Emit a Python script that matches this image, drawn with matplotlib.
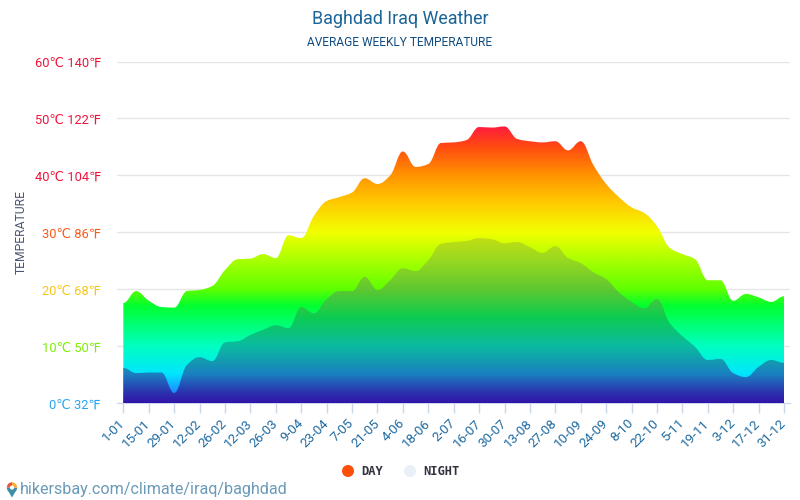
import numpy as np
import matplotlib
matplotlib.use('Agg')
import matplotlib.pyplot as plt
from matplotlib.path import Path
from matplotlib.patches import PathPatch, Circle, Polygon, Wedge
from matplotlib.colors import LinearSegmentedColormap

plt.rcParams['font.family'] = ['Roboto', 'DejaVu Sans']

# one value per week
day = [17.6, 19.7, 18.0, 16.9, 16.8, 19.7, 19.9, 20.6, 23.4, 25.3,
       25.4, 26.2, 25.5, 29.5, 29.0, 32.9, 35.5, 36.2, 37.0, 39.5,
       38.5, 40.0, 44.2, 41.5, 42.0, 45.7, 45.8, 46.2, 48.5, 48.4,
       48.6, 46.4, 46.0, 45.8, 46.0, 44.4, 46.0, 41.8, 38.5, 36.2,
       34.4, 33.4, 31.1, 27.3, 26.2, 25.3, 21.6, 21.6, 18.0, 19.2,
       18.6, 17.8, 18.8]
night = [6.2, 5.3, 5.4, 5.4, 1.8, 6.7, 8.1, 7.4, 10.7, 10.9,
         12.0, 12.9, 13.7, 13.2, 16.9, 15.8, 18.3, 19.7, 19.7, 22.2,
         19.9, 21.6, 23.7, 23.2, 25.1, 28.0, 28.3, 28.5, 29.0, 28.8,
         28.1, 28.3, 27.4, 26.4, 27.6, 25.5, 24.6, 23.0, 21.8, 19.5,
         17.8, 16.7, 18.3, 14.1, 11.8, 9.9, 7.6, 7.8, 5.3, 4.6,
         6.4, 7.6, 7.1]
week_labels = ['1-01', '15-01', '29-01', '12-02', '26-02', '12-03', '26-03', '9-04', '23-04',
               '7-05', '21-05', '4-06', '18-06', '2-07', '16-07', '30-07', '13-08', '27-08',
               '10-09', '24-09', '8-10', '22-10', '5-11', '19-11', '3-12', '17-12', '31-12']
y_ticks = [0, 10, 20, 30, 40, 50, 60]
y_labels = ['0℃ 32℉', '10℃ 50℉', '20℃ 68℉', '30℃ 86℉', '40℃ 104℉', '50℃ 122℉', '60℃ 140℉']
y_colors = ['#2ba4ee', '#7cf000', '#f7c61a', '#ff5a14', '#f0143c', '#f0143c', '#f0143c']

day_stops = [(0, '#2d12a8'), (2, '#1e90ff'), (5, '#00e5ff'), (10, '#00ffc0'), (17, '#00ff30'),
             (20, '#60ff00'), (30, '#f2ff00'), (35, '#ffcc00'), (40, '#ff9400'), (45, '#ff4a10'),
             (50, '#ff0a50'), (60, '#ff0a50')]
night_stops = [(0, '#3114a8'), (2, '#2a38b0'), (5, '#1a80c0'), (10, '#0abba0'), (15, '#0ccc50'),
               (20, '#60c830'), (25, '#98d820'), (30, '#cce010'), (60, '#cce010')]


def smooth_area(values):
    # bezier through the weekly values, no overshoot at the shoulders
    y = np.array(values)
    x = np.arange(len(y))
    slope = np.zeros(len(y))
    for i in range(1, len(y) - 1):
        a = y[i] - y[i - 1]
        b = y[i + 1] - y[i]
        if a * b > 0:
            slope[i] = 2 * a * b / (a + b)
    verts = [(0, 0), (0, y[0])]
    codes = [Path.MOVETO, Path.LINETO]
    for i in range(len(y) - 1):
        verts += [(x[i] + 0.4, y[i] + slope[i] * 0.4),
                  (x[i + 1] - 0.4, y[i + 1] - slope[i + 1] * 0.4),
                  (x[i + 1], y[i + 1])]
        codes += [Path.CURVE4] * 3
    verts += [(x[-1], 0), (0, 0)]
    codes += [Path.LINETO, Path.CLOSEPOLY]
    return Path(verts, codes)


def gradient_area(ax, values, stops, z):
    cmap = LinearSegmentedColormap.from_list('g', [(v / 60, c) for v, c in stops], N=512)
    grad = np.linspace(0, 1, 600).reshape(-1, 1)
    im = ax.imshow(grad, extent=[0, len(values) - 1, 0, 60], origin='lower', aspect='auto',
                   cmap=cmap, vmin=0, vmax=1, zorder=z, interpolation='bilinear')
    patch = PathPatch(smooth_area(values), transform=ax.transData, fc='none', ec='none')
    ax.add_patch(patch)
    im.set_clip_path(patch)


fig = plt.figure(figsize=(8, 5), dpi=100)
ax = fig.add_axes([117 / 800, 1 - 403.3 / 500, 673 / 800, 341.8 / 500])

gradient_area(ax, day, day_stops, 2)
gradient_area(ax, night, night_stops, 3)

ax.set_xlim(-0.5, 52.47)
ax.set_ylim(0, 60)
ax.set_yticks(y_ticks)
ax.set_yticklabels(y_labels, fontsize=9.3)
for lab, col in zip(ax.get_yticklabels(), y_colors):
    lab.set_color(col)
ax.tick_params(axis='y', length=0, pad=11.5)
ax.grid(axis='y', color='#e6e6e6', lw=1)
ax.set_axisbelow(True)

ax.set_xticks(np.arange(0, 53, 2))
ax.set_xticklabels(week_labels, rotation=45, ha='right', va='center', rotation_mode='anchor',
                   fontsize=9.6, color='#1f6aa0')
ax.tick_params(axis='x', length=7, width=1, color='#ccd6eb', pad=6)

for s in ['top', 'left', 'right']:
    ax.spines[s].set_visible(False)
ax.spines['bottom'].set_color('#ccd6eb')

fig.text(0.5, 1 - 18.5 / 500, 'Baghdad Iraq Weather', ha='center', va='center', fontsize=12.9, color='#1a6496')
fig.text(0.5, 1 - 42 / 500, 'AVERAGE WEEKLY TEMPERATURE', ha='center', va='center', fontsize=8.55, color='#0f4c81')
fig.text(21 / 800, 1 - 231.5 / 500, 'TEMPERATURE', rotation=90, ha='center', va='center', fontsize=8.7, color='#4a5570')

# legend and footer in pixel coordinates
over = fig.add_axes([0, 0, 1, 1], facecolor='none')
over.set_xlim(0, 800)
over.set_ylim(500, 0)
over.axis('off')
over.add_patch(Circle((348, 471), 6, fc='#ff4d0a', ec='none'))
over.add_patch(Circle((410, 471), 6, fc='#e9f0f7', ec='none'))
over.text(361, 471.5, 'DAY', family='DejaVu Sans Mono', fontweight='bold', fontsize=8.7, color='#333340', va='center')
over.text(423, 471.5, 'NIGHT', family='DejaVu Sans Mono', fontweight='bold', fontsize=8.7, color='#333340', va='center')
# map pin
over.add_patch(Polygon([(7.3, 489.5), (16.7, 489.5), (12, 497.5)], fc='#3f8fa8', ec='none'))
over.add_patch(Wedge((12, 487.5), 5.2, 0, 180, fc='#3f8fa8', ec='none'))
over.add_patch(Wedge((12, 487.5), 5.2, 180, 270, fc='#e8503f', ec='none'))
over.add_patch(Wedge((12, 487.5), 5.2, 270, 360, fc='#f5b030', ec='none'))
over.add_patch(Circle((12, 487.5), 2.1, fc='white', ec='none'))
over.text(20, 489.5, 'hikersbay.com/climate/iraq/baghdad', fontsize=11.65, color='#6a9ab8', va='center')

fig.savefig('out.png', dpi=100)
